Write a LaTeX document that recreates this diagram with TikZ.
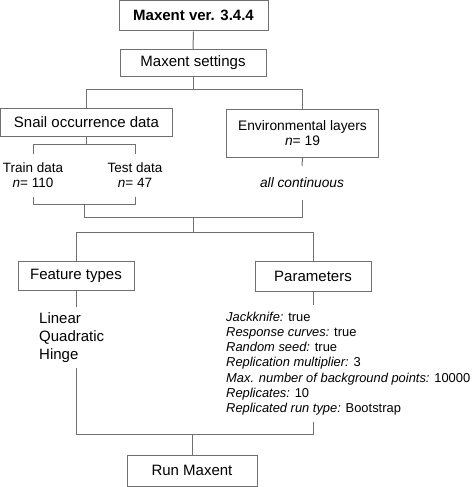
\documentclass[tikz,border=0pt]{standalone}
\usepackage{fontspec}
\setmainfont{Liberation Sans}
\usetikzlibrary{calc,positioning}
\definecolor{linegray}{RGB}{112,112,112}
\tikzset{
	box/.style={
		rectangle,
		draw=linegray, line width=1pt,
		inner sep=0pt,
		text centered,
		font=\fontsize{15}{18}\selectfont},
	line/.style={draw=linegray, line width=1pt},
	plain/.style={
		align=center,
		inner sep=0pt,
		outer ysep=9pt,
		font=\fontsize{13.5}{15}\selectfont},
	listing/.style={
		align=left,
		anchor=north west,
		inner sep=0pt},
}

\begin{document}
\begin{tikzpicture}
			[x=1pt, y=-1pt]
			\useasboundingbox (0,0) rectangle (474,487);
			\node[box, minimum width=149pt, minimum height=30.5pt, font=\bfseries\fontsize{15}{18}\selectfont] (maxent) at (193.5,15.75) {Maxent ver. 3.4.4};
			\node[box, minimum width=146pt, minimum height=26pt] (settings) at (193,63) {Maxent settings};
			\node[box, minimum width=172pt, minimum height=28pt] (snail) at (86.5,122) {Snail occurrence data};
			\node[box, minimum width=152pt, minimum height=48pt, align=center, font=\fontsize{13.8}{15}\selectfont] (env) at (302.5,133) {Environmental layers\\\textit{n}= 19};
			\node[plain] (train) at (33,175.5) {Train data\\\textit{n}= 110};
			\node[plain] (test) at (135,175.5) {Test data\\\textit{n}= 47};
			\node[plain, outer ysep=12pt, font=\itshape\fontsize{13.7}{15}\selectfont] (allc) at (302,183) {all continuous};
			\node[box, minimum width=116pt, minimum height=29pt] (feature) at (76,275.5) {Feature types};
			\node[box, minimum width=116pt, minimum height=30pt] (params) at (313,276) {Parameters};
			\node[listing, outer ysep=6pt, font=\fontsize{15}{18}\selectfont] (feats) at (39,306.5) {Linear\\Quadratic\\Hinge};
			\node[listing, outer ysep=7pt, font=\fontsize{12.9}{15.2}\selectfont] (plist) at (226,305) {\textit{Jackknife:} true\\
				\textit{Response curves:} true\\
				\textit{Random seed:} true\\
				\textit{Replication multiplier:} 3\\
				\textit{Max. number of background points:} 10000\\
				\textit{Replicates:} 10\\
				\textit{Replicated run type:} Bootstrap};
			\node[box, minimum width=130pt, minimum height=31.5pt] (run) at (192,470.75) {Run Maxent};
			% connectors
			\draw[line] (maxent) -- (settings);
			\draw[line] (settings.south) -- ++(0,13) coordinate (j1);
			\draw[line] (snail.north) |- (j1) -| (env.north);
			\draw[line] (snail.south) -- ++(0,8) coordinate (j2);
			\draw[line] (train.north) |- (j2) -| (test.north);
			\draw[line] (train.south) |- ($(train.south)!0.5!(test.south)+(0,8)$) coordinate (j3) -| (test.south);
			\draw[line] (env.south) -- (allc.north);
			\draw[line] (j3) |- ($(allc.south)+(0,17)$) coordinate (j4) -- (allc.south);
			\draw[line] (j4 -| maxent.south) -- ++(0,15) coordinate (j5);
			\draw[line] (feature.north) |- (j5) -| (params.north);
			\draw[line] (feature.south) -- (feature.south |- feats.north);
			\draw[line] (params.south) -- (params.south |- plist.north);
			\draw[line] (feature.south |- feats.south) |- ($(run.north)+(0,-20)$) coordinate (j6) -| (params.south |- plist.south);
			\draw[line] (j6) -- (run.north);
			\end{tikzpicture}
\end{document}
